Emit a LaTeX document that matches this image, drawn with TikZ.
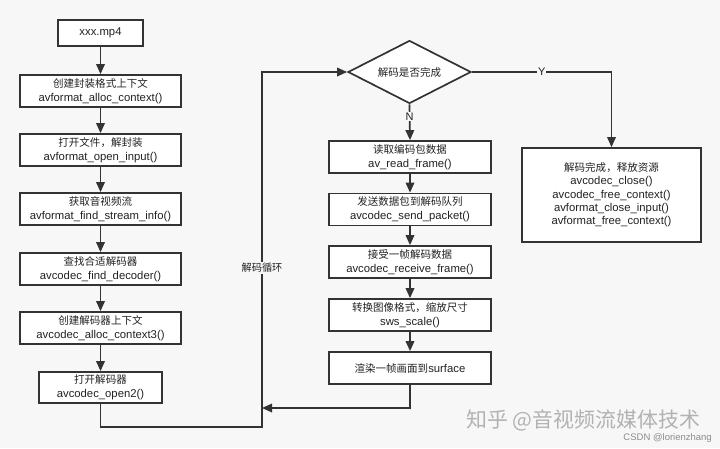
\documentclass[tikz,border=0pt]{standalone}
\usepackage{fontspec}
\setmainfont{Liberation Sans}
\newfontfamily\cjk[Scale=0.93]{Noto Sans CJK SC}
\usetikzlibrary{shapes.geometric,arrows.meta}
\definecolor{bgc}{HTML}{F7F7F7}
\definecolor{linec}{HTML}{333333}
\definecolor{textc}{HTML}{222222}
\begin{document}
\begin{tikzpicture}[x=1pt,y=-1pt,
  box/.style={draw=linec, line width=1.7pt, fill=white, minimum width=161pt, minimum height=32pt,
    inner sep=0pt, align=center, text=textc, font=\fontsize{11.3}{14}\selectfont},
  arr/.style={draw=linec, line width=1.7pt, line join=miter, -{Triangle[length=10pt,width=8.5pt]}},
  lab/.style={fill=bgc, inner sep=1pt, text=textc, font=\fontsize{11}{13}\selectfont}]
\fill[bgc] (0,0) rectangle (720,448);
\useasboundingbox (0,0) rectangle (720,448);
% left column
\node[box, minimum width=85pt, minimum height=26pt] (n0) at (100.5,33) {xxx.mp4};
\node[box] (n1) at (100.5,91) {{\cjk 创建封装格式上下文}\\avformat\_alloc\_context()};
\node[box] (n2) at (100.5,150) {{\cjk 打开文件，解封装}\\avformat\_open\_input()};
\node[box] (n3) at (100.5,209) {{\cjk 获取音视频流}\\avformat\_find\_stream\_info()};
\node[box] (n4) at (100.5,269) {{\cjk 查找合适解码器}\\avcodec\_find\_decoder()};
\node[box] (n5) at (100.5,328) {{\cjk 创建解码器上下文}\\avcodec\_alloc\_context3()};
\node[box, minimum width=123pt, minimum height=31pt] (n6) at (100.5,387.5) {{\cjk 打开解码器}\\avcodec\_open2()};
% diamond
\node[draw=linec, line width=1.7pt, fill=white, diamond, aspect=1.95, minimum width=123pt, minimum height=63pt,
  inner sep=0pt, text=textc, font=\fontsize{11.3}{14}\selectfont] (d) at (409.5,72) {{\cjk 解码是否完成}};
% middle column
\node[box, minimum width=162pt] (m1) at (410,157) {{\cjk 读取编码包数据}\\av\_read\_frame()};
\node[box, minimum width=162pt] (m2) at (410,209.5) {{\cjk 发送数据包到解码队列}\\avcodec\_send\_packet()};
\node[box, minimum width=162pt] (m3) at (410,262) {{\cjk 接受一帧解码数据}\\avcodec\_receive\_frame()};
\node[box, minimum width=162pt] (m4) at (410,315) {{\cjk 转换图像格式，缩放尺寸}\\sws\_scale()};
\node[box, minimum width=162pt] (m5) at (410,368) {{\cjk 渲染一帧画面到}surface};
% right box
\node[box, minimum width=179pt, minimum height=94pt, font=\fontsize{11.3}{13.3}\selectfont] (r) at (611.5,195)
  {{\cjk 解码完成，释放资源}\\avcodec\_close()\\avcodec\_free\_context()\\avformat\_close\_input()\\avformat\_free\_context()};
% connectors
\draw[arr] (n0) -- (n1);
\draw[arr] (n1) -- (n2);
\draw[arr] (n2) -- (n3);
\draw[arr] (n3) -- (n4);
\draw[arr] (n4) -- (n5);
\draw[arr] (n5) -- (n6);
\coordinate (c1) at (100.5,427);
\coordinate (c2) at (262,427);
\coordinate (c3) at (262,72);
\draw[arr] (n6.south) -- (c1) -- (c2) -- (c3) -- (d.west);
\coordinate (c4) at (611.5,72);
\draw[arr] (d.east) -- node[lab] (ylab) {Y} (c4) -- (r.north);
\draw[arr] (d.south) -- node[lab, pos=0.34] (nlab) {N} (m1.north);
\draw[arr] (m1) -- (m2);
\draw[arr] (m2) -- (m3);
\draw[arr] (m3) -- (m4);
\draw[arr] (m4) -- (m5);
\coordinate (c5) at (410,408);
\coordinate (c6) at (262,408);
\draw[arr] (m5.south) -- (c5) -- (c6);
\node[lab] (loop) at (262,268) {{\cjk 解码循环}};
% watermarks
\node[anchor=west, inner sep=0pt, text=black!30] (wm) at (466,420) {{\cjk\fontsize{22.5}{26}\selectfont 知乎 @音视频流媒体技术}};
\node[anchor=east, inner sep=0pt, text=black!45, font=\fontsize{9.5}{11}\selectfont] (csdn) at (712,438) {CSDN @lorienzhang};
\end{tikzpicture}
\end{document}
